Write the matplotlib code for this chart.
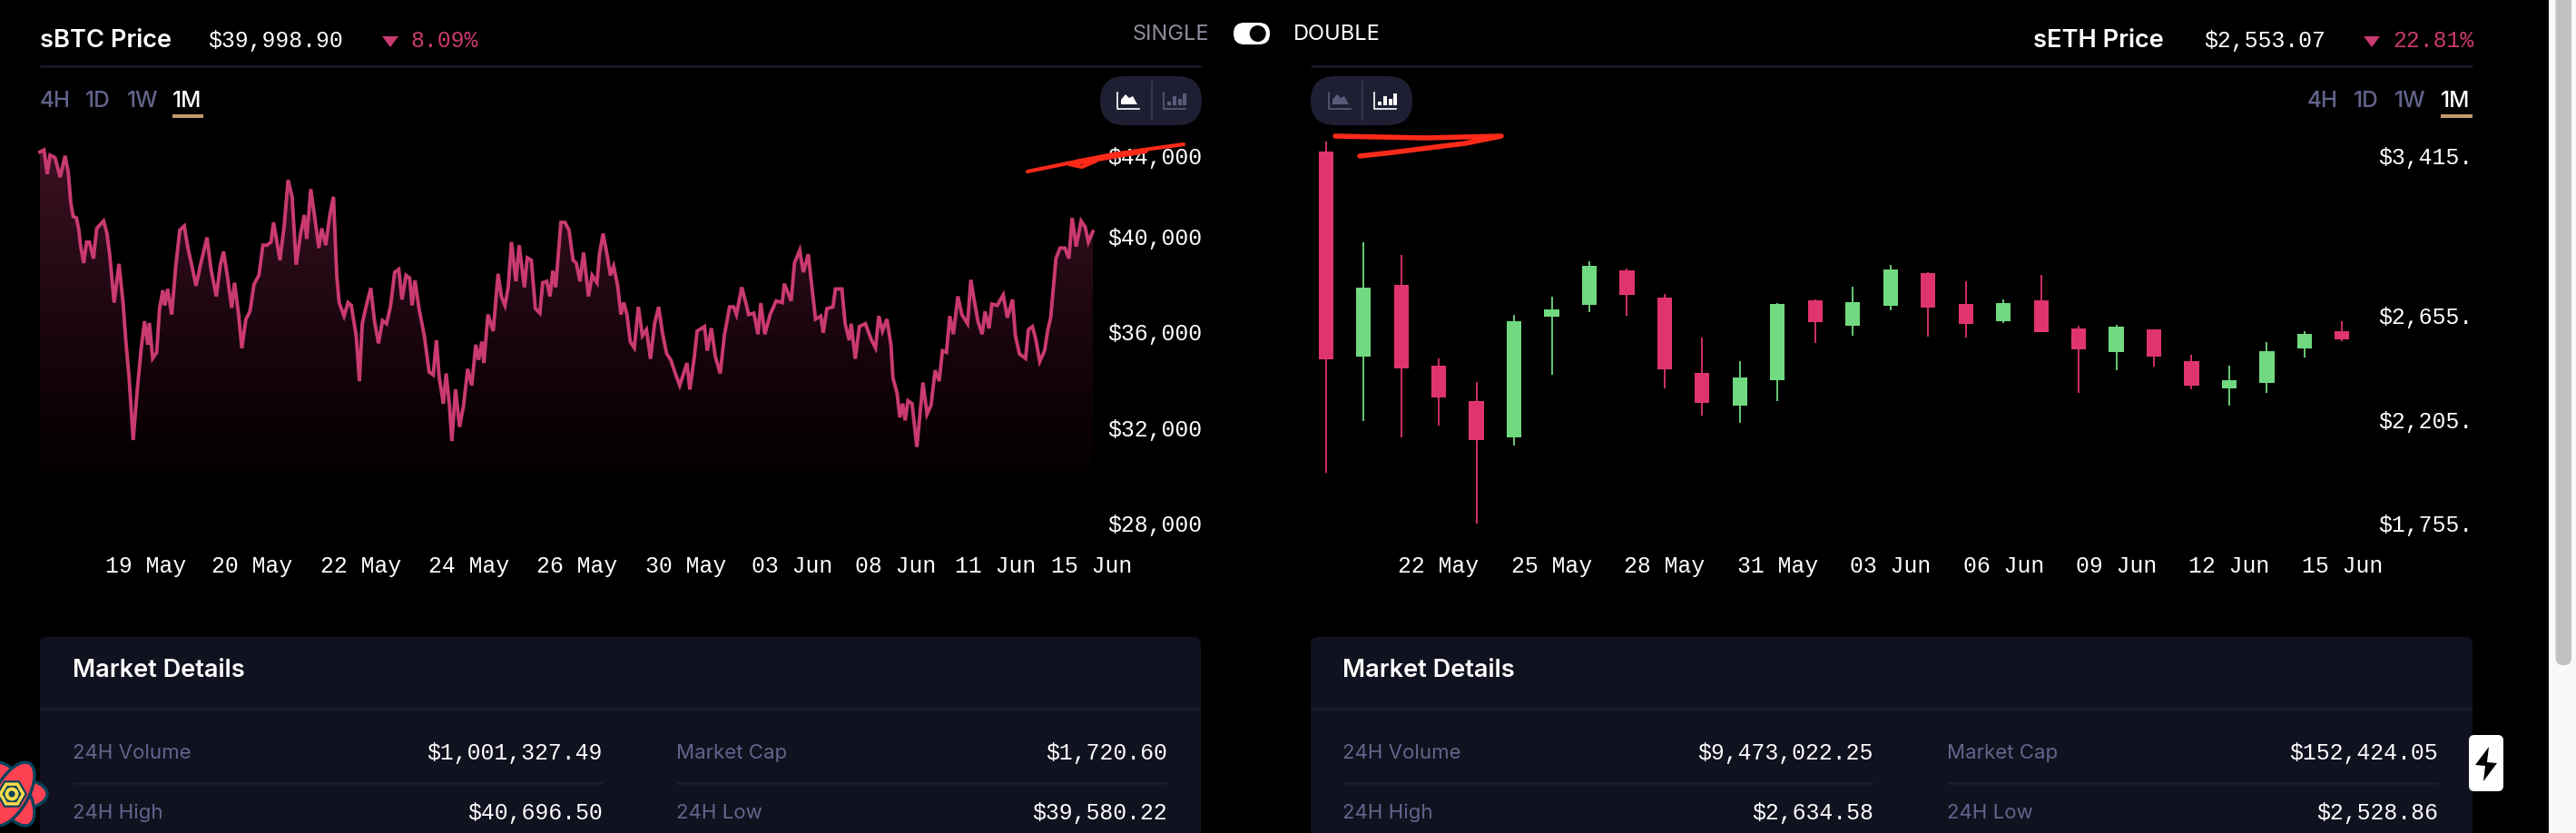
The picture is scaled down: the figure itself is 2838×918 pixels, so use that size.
import numpy as np
import matplotlib
matplotlib.use("Agg")
import matplotlib.pyplot as plt
from matplotlib.colors import LinearSegmentedColormap
from matplotlib.patches import Circle, Ellipse, FancyBboxPatch, Polygon, RegularPolygon, Rectangle
from matplotlib.transforms import ScaledTranslation

W, H = 2838, 918
MONO = "Liberation Mono"
SANS = "Inter"
PINK = "#c93a70"
RED = "#e0356c"
GREEN = "#71d97f"
MUTED = "#63648c"
CARD = "#11121f"
RULE = "#1c1d2d"
AX_TOP, AX_BOTTOM = 156.2, 578.3

# sBTC line, sample number / price
btc_sample = [
    100, 110, 118, 125, 137, 150, 162, 170, 176, 182, 190, 196, 200, 208, 215, 222, 232, 240, 257, 265,
    272, 283, 295, 305, 312, 320, 330, 340, 350, 358, 366, 370, 378, 388, 395, 403, 408, 415, 425, 435,
    445, 456, 465, 475, 485, 497, 512, 522, 535, 545, 553, 562, 573, 580, 590, 598, 608, 618, 628, 640,
    650, 660, 670, 676, 682, 692, 703, 712, 722, 732, 742, 752, 758, 768, 778, 788, 795, 805, 815, 824,
    832, 838, 850, 860, 868, 880, 888, 895, 905, 916, 925, 935, 945, 955, 965, 975, 985, 993, 1003, 1012,
    1018, 1025, 1035, 1048, 1060, 1070, 1078, 1085, 1095, 1102, 1110, 1116, 1125, 1135, 1145, 1155, 1165, 1175, 1182, 1190,
    1195, 1205, 1218, 1230, 1238, 1247, 1255, 1263, 1274, 1282, 1295, 1302, 1312, 1322, 1333, 1340, 1350, 1358, 1365, 1372,
    1385, 1395, 1405, 1415, 1423, 1432, 1441, 1453, 1462, 1474, 1480, 1489, 1500, 1507, 1515, 1525, 1533, 1540, 1548, 1556,
    1566, 1576, 1586, 1596, 1606, 1616, 1626, 1636, 1646, 1656, 1666, 1678, 1696, 1703, 1714, 1721, 1739, 1746, 1756, 1766,
    1778, 1788, 1801, 1811, 1818, 1831, 1841, 1848, 1861, 1871, 1878, 1888, 1901, 1916, 1931, 1936, 1953, 1961, 1974, 1983,
    1995, 2006, 2013, 2026, 2032, 2041, 2056, 2062, 2078, 2086, 2096, 2101, 2111, 2121, 2136, 2151, 2161, 2169, 2178, 2189,
    2199, 2204, 2214, 2221, 2228, 2234, 2241, 2251, 2263, 2278, 2288, 2298, 2308, 2318, 2326, 2336, 2344, 2353, 2364, 2374,
    2388, 2396, 2404, 2414, 2424, 2431, 2441, 2448, 2461, 2476, 2486, 2499, 2506, 2516, 2531, 2538, 2548, 2556, 2566, 2578,
    2586, 2593, 2599, 2606, 2616, 2628, 2638, 2646, 2656, 2668, 2678, 2686, 2697,
]
btc_price = [
    43570, 43660, 42650, 43440, 43340, 42520, 43410, 42710, 41450, 40880, 40820, 40310, 39680, 38930, 39810, 39810, 39120, 40380, 40690, 40190,
    39300, 37280, 38900, 37280, 35650, 34130, 31540, 33630, 35400, 36500, 35520, 36430, 34950, 35200, 37030, 37790, 37160, 37850, 36780, 38800,
    40310, 40480, 39560, 38800, 37980, 38930, 40000, 38670, 37540, 38860, 39410, 38420, 37060, 38110, 36780, 35370, 36590, 36910, 38040, 38420,
    39680, 39680, 39810, 40630, 40060, 39050, 40570, 42400, 41700, 38860, 40060, 40940, 39940, 42020, 40820, 39560, 40380, 39680, 40940, 41700,
    38420, 37280, 36720, 37280, 37160, 35900, 34000, 36400, 37160, 37890, 36530, 35580, 36530, 36400, 37160, 38550, 38670, 37410, 38420, 38300,
    37160, 38210, 37030, 35900, 34380, 34260, 35710, 34130, 33060, 34320, 33000, 31500, 33660, 32090, 33000, 34510, 33820, 35520, 34890, 35650,
    34760, 36780, 36090, 38480, 37540, 37160, 37920, 39810, 38170, 39680, 37920, 39150, 39050, 37030, 36840, 38110, 38170, 37540, 38610, 37920,
    40630, 40630, 40310, 39050, 38930, 38170, 39370, 37540, 38420, 38110, 39300, 40160, 39180, 38420, 38800, 37980, 36780, 37280, 36780, 35650,
    35390, 37100, 35900, 36150, 34930, 36400, 37100, 35960, 35140, 34890, 34380, 33820, 34760, 33650, 35010, 36090, 36280, 35270, 36210, 35010,
    34320, 35900, 37100, 37100, 36780, 37920, 37280, 36780, 36840, 35960, 37260, 35960, 36780, 37350, 37280, 38070, 37350, 38930, 39470, 38550,
    39300, 37660, 36590, 36720, 36020, 37030, 37100, 37850, 37850, 36400, 35710, 36400, 34930, 36280, 36400, 35710, 35390, 36720, 36090, 36590,
    35520, 34130, 33500, 32490, 33060, 32360, 33180, 33060, 31250, 33940, 32620, 33000, 34450, 34000, 35270, 35200, 36720, 35960, 37540, 36780,
    36400, 38230, 37410, 36470, 35960, 36910, 36210, 37220, 37160, 37600, 36650, 37410, 35900, 35140, 34950, 36150, 36280, 35770, 34820, 35270,
    36150, 36650, 37790, 39120, 39560, 39560, 39120, 40820, 39620, 40690, 40440, 39810, 40250,
]
btc_tick_samples = [360, 624, 891, 1157, 1425, 1694, 1955, 2211, 2456, 2693]
btc_tick_labels = ["19 May", "20 May", "22 May", "24 May", "26 May", "30 May", "03 Jun", "08 Jun", "11 Jun", "15 Jun"]
btc_y_ticks = [28000, 32000, 36000, 40000, 44000]
btc_y_labels = ["$28,000", "$32,000", "$36,000", "$40,000", "$44,000"]

# sETH candles
eth_open = [3373, 2485, 2795, 2443, 2292, 2132, 2656, 2707, 2859, 2738, 2414, 2272, 2381, 2726,
            2618, 2703, 2846, 2710, 2637, 2728, 2604, 2504, 2600, 2465, 2345, 2368, 2521, 2595]
eth_close = [2472, 2781, 2431, 2308, 2122, 2639, 2690, 2876, 2753, 2428, 2284, 2393, 2711, 2633,
             2718, 2861, 2697, 2625, 2714, 2591, 2517, 2613, 2483, 2358, 2380, 2508, 2583, 2557]
eth_high = [3415, 2981, 2926, 2476, 2372, 2665, 2745, 2897, 2867, 2756, 2565, 2465, 2714, 2732,
            2787, 2882, 2848, 2812, 2732, 2836, 2618, 2622, 2603, 2493, 2445, 2546, 2595, 2638]
eth_low = [1980, 2204, 2134, 2186, 1760, 2098, 2406, 2676, 2662, 2346, 2228, 2196, 2291, 2542,
           2574, 2684, 2570, 2566, 2629, 2589, 2327, 2426, 2439, 2343, 2271, 2326, 2479, 2549]
eth_tick_pos = [3, 6, 9, 12, 15, 18, 21, 24, 27]
eth_tick_labels = ["22 May", "25 May", "28 May", "31 May", "03 Jun", "06 Jun", "09 Jun", "12 Jun", "15 Jun"]
eth_y_ticks = [1755, 2205, 2655, 3415]
eth_y_labels = ["$1,755.", "$2,205.", "$2,655.", "$3,415."]

btc_details = [("24H Volume", "$1,001,327.49"), ("Market Cap", "$1,720.60"), ("24H High", "$40,696.50"), ("24H Low", "$39,580.22")]
eth_details = [("24H Volume", "$9,473,022.25"), ("Market Cap", "$152,424.05"), ("24H High", "$2,634.58"), ("24H Low", "$2,528.86")]

fig = plt.figure(figsize=(W / 100, H / 100), dpi=100, facecolor="black")


def chart_axes(x0, x1):
    ax = fig.add_axes([x0 / W, (H - AX_BOTTOM) / H, (x1 - x0) / W, (AX_BOTTOM - AX_TOP) / H], facecolor="black")
    for s in ax.spines.values():
        s.set_visible(False)
    ax.yaxis.tick_right()
    ax.tick_params(axis="y", length=0, pad=11.5, labelcolor="white")
    ax.tick_params(axis="x", length=0, pad=24, labelcolor="white")
    return ax


def style_ticks(ax):
    for lab in ax.get_xticklabels() + ax.get_yticklabels():
        lab.set_fontfamily(MONO)
        lab.set_fontsize(17.8)
    labels = ax.get_yticklabels()
    for lab in labels[:-1]:
        lab.set_transform(lab.get_transform() + ScaledTranslation(0, 0.015, fig.dpi_scale_trans))
    # the top label sits lower than its tick, as in the original
    top = labels[-1]
    top.set_transform(top.get_transform() + ScaledTranslation(0, -0.155, fig.dpi_scale_trans))


# left chart
ax1 = chart_axes(44, 1204)
ax1.set_xlim(100, 2697)
ax1.set_ylim(28000, 44000)
poly = ax1.fill_between(btc_sample, btc_price, 29200, color="none")
fade = LinearSegmentedColormap.from_list("fade", ["#000000", "#120308", "#260a16", "#3e1022"])
img = ax1.imshow(np.linspace(1, 0, 256).reshape(-1, 1), cmap=fade, aspect="auto",
                 extent=[100, 2697, 29200, 43700], interpolation="bilinear", zorder=1)
img.set_clip_path(poly.get_paths()[0], transform=ax1.transData)
ax1.set_xlim(100, 2697)
ax1.set_ylim(28000, 44000)
ax1.plot(btc_sample, btc_price, color=PINK, lw=2.8, solid_joinstyle="miter", zorder=2, clip_on=False)
ax1.set_xticks(btc_tick_samples, btc_tick_labels)
ax1.set_yticks(btc_y_ticks, btc_y_labels)
style_ticks(ax1)

# right chart
ax2 = chart_axes(1444, 2604)
ax2.set_xlim(-0.403, 27.57)
ax2.set_ylim(1755, 3415)
candle_x = np.arange(len(eth_open))
candle_col = [GREEN if c >= o else RED for o, c in zip(eth_open, eth_close)]
ax2.vlines(candle_x, eth_low, eth_high, colors=candle_col, lw=1.3, clip_on=False)
ax2.bar(candle_x, np.abs(np.subtract(eth_close, eth_open)), bottom=np.minimum(eth_open, eth_close),
        width=0.39, color=candle_col, zorder=2)
ax2.set_xticks(eth_tick_pos, eth_tick_labels)
ax2.set_yticks(eth_y_ticks, eth_y_labels)
style_ticks(ax2)

# page chrome, pixel coordinates
ui = fig.add_axes([0, 0, 1, 1], facecolor="none", zorder=5)
ui.set_xlim(0, W)
ui.set_ylim(H, 0)
ui.axis("off")


def rrect(x0, y0, x1, y1, r, color, **kw):
    ui.add_patch(FancyBboxPatch((x0, y0), x1 - x0, y1 - y0, boxstyle=f"round,pad=0,rounding_size={r}",
                                fc=color, ec="none", **kw))


def sans(x, y, s, size=19.6, color="white", weight="normal", ha="left"):
    ui.text(x, y, s, family=SANS, fontsize=size, color=color, fontweight=weight, ha=ha, va="center")


def mono(x, y, s, color="white", ha="left"):
    ui.text(x, y, s, family=MONO, fontsize=17.8, color=color, ha=ha, va="center")


def rule(x0, x1, y, color=RULE, lw=1.8):
    ui.plot([x0, x1], [y, y], color=color, lw=lw, solid_capstyle="butt")


def area_icon(x, col):
    ui.plot([x, x, x + 24], [102, 120, 120], color=col, lw=1.2)
    ui.add_patch(Polygon([(x + 4, 115), (x + 4, 110), (x + 9, 104), (x + 13, 108), (x + 17, 106), (x + 22, 115)], fc=col, ec="none"))


def bar_icon(x, col):
    ui.plot([x, x, x + 24], [102, 120, 120], color=col, lw=1.2)
    for dx, top in zip([4, 10, 16, 21], [112, 106, 109, 103]):
        ui.add_patch(Rectangle((x + dx, top), 3.5, 116 - top, fc=col, ec="none"))


def ranges(xs, under):
    for x, s in zip(xs, ["4H", "1D", "1W"]):
        sans(x, 112, s, size=17.5, color=MUTED, weight="medium")
    sans(xs[3], 112, "1M", size=17.5, weight="medium")
    ui.add_patch(Rectangle((under[0], 126), under[1] - under[0], 4, fc="#c19a6b", ec="none"))


def header(title_x, title, price_x, price, tri_x, pct_x, pct):
    sans(title_x, 45, title, weight="semibold")
    mono(price_x, 45, price)
    ui.add_patch(Polygon([(tri_x, 40), (tri_x + 18, 40), (tri_x + 9, 52)], fc=PINK, ec="none"))
    mono(pct_x, 45, pct, color=PINK)


def card(x0, x1, lab_x, val_r, lab2_x, val2_r, rows):
    rrect(x0, 702, x1, 960, 8, CARD)
    sans(lab_x, 739, "Market Details", weight="semibold")
    rule(x0, x1, 780.5)
    rule(lab_x, val_r, 863)
    rule(lab2_x, val2_r, 863)
    for (lab, val), x, r, y in zip(rows, [lab_x, lab2_x, lab_x, lab2_x], [val_r, val2_r, val_r, val2_r], [830, 830, 896, 896]):
        sans(x, y, lab, size=16, color=MUTED)
        mono(r, y, val, ha="right")


header(44, "sBTC Price", 229, "$39,998.90", 421, 452, "8.09%")
header(2240, "sETH Price", 2428, "$2,553.07", 2604, 2636, "22.81%")
rule(44, 1323, 72.7)
rule(1444, 2724, 72.7)

# toggle
sans(1248, 37.5, "SINGLE", size=17, color="#8b8e9b")
sans(1425, 37.5, "DOUBLE", size=17)
rrect(1359, 25, 1399, 49, 12, "white")
ui.add_patch(Circle((1385.7, 37), 9, fc="black", ec="none"))

ranges([44, 94, 140, 190], (190, 224))
ranges([2542, 2593, 2638, 2689], (2689, 2724))

# chart type pills
rrect(1212, 84, 1324, 138, 27, "#1e1f33")
ui.plot([1269, 1269], [90, 132], color="#3a3b55", lw=1.2)
area_icon(1231, "white")
bar_icon(1282, "#5a5b78")
rrect(1444, 84, 1556, 138, 27, "#1e1f33")
ui.plot([1501, 1501], [90, 132], color="#3a3b55", lw=1.2)
area_icon(1464, "#5a5b78")
bar_icon(1514, "white")

# hand drawn marks on the screenshot
SCRIBBLE = "#ff2a1a"
ui.plot([1132, 1186, 1226, 1275, 1304], [189, 178, 170, 163, 159], color=SCRIBBLE, lw=3, solid_capstyle="round")
ui.plot([1186, 1226, 1262], [179, 172, 166], color=SCRIBBLE, lw=4.5, solid_capstyle="round")
ui.plot([1178, 1192, 1208], [181, 184, 177], color=SCRIBBLE, lw=3, solid_capstyle="round")
ui.plot([1471, 1570, 1654, 1614, 1534, 1498], [150, 152, 150, 158, 168, 172], color=SCRIBBLE, lw=4, solid_capstyle="round", solid_joinstyle="round")

card(44, 1323, 80, 664, 745, 1286, btc_details)
card(1444, 2724, 1479, 2064, 2145, 2686, eth_details)

# react query logo
for ang in [0, 60, 120]:
    ui.add_patch(Ellipse((13, 875), 78, 36, angle=ang, fc="#ff4154", ec="#00435b", lw=2.4))
for rad, col in zip([17, 14.5, 10.5], ["#00435b", "#ffd94c", "#00435b"]):
    ui.add_patch(RegularPolygon((13, 875), 6, radius=rad, orientation=np.pi / 6, fc=col, ec="none"))
ui.add_patch(Circle((13, 875), 7.5, fc="#ffd94c", ec="none"))
ui.add_patch(Circle((13, 875), 3.5, fc="#00435b", ec="none"))

# bolt badge
rrect(2720, 810, 2758, 872, 6, "white")
ui.add_patch(Polygon([(2742, 823), (2727, 843), (2738, 844), (2736, 861), (2751, 841), (2740, 840)], fc="black", ec="none"))

# scrollbar
ui.add_patch(Rectangle((2808, 0), 30, H, fc="#f8f8f8", ec="none"))
rrect(2815.5, -20, 2833, 733, 8, "#c2c2c2")

fig.savefig("out.png", dpi=100, facecolor="black")
